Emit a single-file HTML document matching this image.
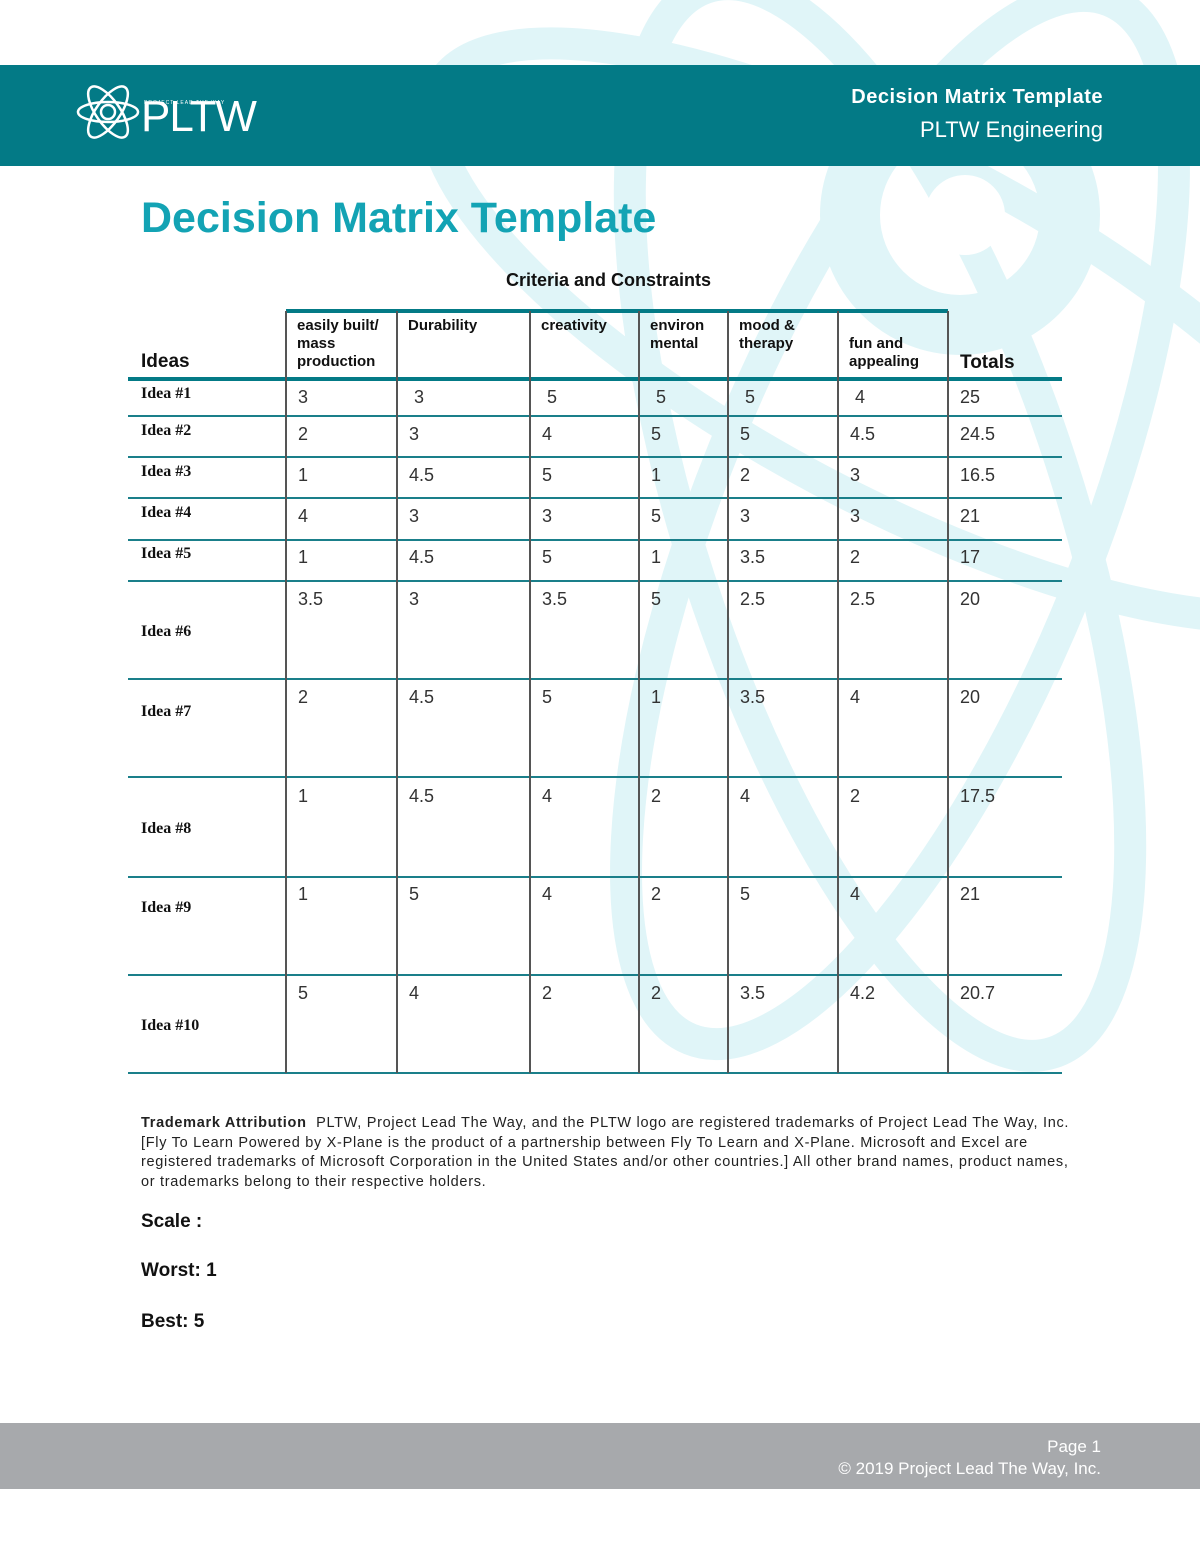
<!DOCTYPE html>
<html><head><meta charset="utf-8"><style>
body{margin:0;width:1200px;height:1553px;position:relative;background:#fff;font-family:"Liberation Sans",sans-serif;overflow:hidden}
.a{position:absolute;white-space:nowrap}
.h{font-weight:bold;font-size:15px;color:#111;line-height:18px}
.v{font-size:18px;color:#333}
.i{font-family:"Liberation Serif",serif;font-weight:bold;font-size:16px;color:#111}
</style></head><body>
<svg class="a" style="left:0;top:0" width="1200" height="1553">
<g fill="none" stroke="#e0f5f8" stroke-width="32">
<ellipse cx="880" cy="520" rx="190" ry="560" transform="rotate(-18 880 520)"/>
<ellipse cx="900" cy="520" rx="190" ry="560" transform="rotate(22 900 520)"/>
<ellipse cx="900" cy="330" rx="520" ry="170" transform="rotate(28 900 330)"/>
<circle cx="960" cy="215" r="110" stroke-width="60"/>
</g>
<circle cx="965" cy="215" r="40" fill="#fff"/>
<rect x="0" y="65" width="1200" height="101" fill="#037a86"/>
<rect x="0" y="1423" width="1200" height="66" fill="#a7a9ac"/>
<g fill="none" stroke="#fff" stroke-width="2.5">
<ellipse cx="108" cy="112" rx="12" ry="30" transform="rotate(-35 108 112)"/>
<ellipse cx="108" cy="112" rx="12" ry="30" transform="rotate(35 108 112)"/>
<ellipse cx="108" cy="112" rx="30" ry="10"/>
<circle cx="108" cy="112" r="7"/>
</g>
<rect x="286" y="309" width="662" height="4" fill="#037a86"/>
<rect x="128" y="377" width="934" height="4" fill="#037a86"/>
<g fill="#1a7f8a">
<rect x="128" y="415" width="934" height="2"/><rect x="128" y="456" width="934" height="2"/>
<rect x="128" y="497" width="934" height="2"/><rect x="128" y="539" width="934" height="2"/>
<rect x="128" y="580" width="934" height="2"/><rect x="128" y="678" width="934" height="2"/>
<rect x="128" y="776" width="934" height="2"/><rect x="128" y="876" width="934" height="2"/>
<rect x="128" y="974" width="934" height="2"/><rect x="128" y="1072" width="934" height="2"/>
</g>
<g fill="#555">
<rect x="285" y="311" width="2" height="762"/><rect x="396" y="311" width="2" height="762"/>
<rect x="529" y="311" width="2" height="762"/><rect x="638" y="311" width="2" height="762"/>
<rect x="727" y="311" width="2" height="762"/><rect x="837" y="311" width="2" height="762"/>
<rect x="947" y="311" width="2" height="762"/>
</g>
</svg>
<div class="a" style="left:141px;top:92px;color:#fff;font-size:44px;letter-spacing:-1px">PLTW</div>
<div class="a" style="left:144px;top:100px;color:#fff;font-size:5px;letter-spacing:1px">PROJECT LEAD THE WAY</div>
<div class="a" style="right:97px;top:86px;color:#fff;font-size:20px;font-weight:bold;letter-spacing:0.5px">Decision Matrix Template</div>
<div class="a" style="right:97px;top:117px;color:#fff;font-size:22px">PLTW Engineering</div>
<div class="a" style="left:141px;top:194px;color:#13a3b4;font-size:43px;font-weight:bold">Decision Matrix Template</div>
<div class="a" style="left:506px;top:270px;font-size:18px;font-weight:bold;color:#111">Criteria and Constraints</div>
<div class="a" style="left:141px;top:351px;font-size:19px;font-weight:bold;color:#111">Ideas</div>
<div class="a h" style="left:297px;top:317px">easily built/<br>mass<br>production</div>
<div class="a h" style="left:408px;top:317px">Durability</div>
<div class="a h" style="left:541px;top:317px">creativity</div>
<div class="a h" style="left:650px;top:317px">environ<br>mental</div>
<div class="a h" style="left:739px;top:317px">mood &amp;<br>therapy</div>
<div class="a h" style="left:849px;top:335px">fun and<br>appealing</div>
<div class="a" style="left:960px;top:352px;font-size:19px;font-weight:bold;color:#111">Totals</div>
<div id="rows"></div>
<script>
var d=[[385,387,"Idea #1",["3"," 3"," 5"," 5"," 5"," 4","25"]],[422,424,"Idea #2",["2","3","4","5","5","4.5","24.5"]],[463,465,"Idea #3",["1","4.5","5","1","2","3","16.5"]],[504,506,"Idea #4",["4","3","3","5","3","3","21"]],[545,547,"Idea #5",["1","4.5","5","1","3.5","2","17"]],[623,589,"Idea #6",["3.5","3","3.5","5","2.5","2.5","20"]],[703,687,"Idea #7",["2","4.5","5","1","3.5","4","20"]],[820,786,"Idea #8",["1","4.5","4","2","4","2","17.5"]],[899,884,"Idea #9",["1","5","4","2","5","4","21"]],[1017,983,"Idea #10",["5","4","2","2","3.5","4.2","20.7"]]];
var xs=[298,409,542,651,740,850,960],h="";
d.forEach(function(r){h+='<div class="a i" style="left:141px;top:'+r[0]+'px">'+r[2]+'</div>';
r[3].forEach(function(v,k){h+='<div class="a v" style="left:'+xs[k]+'px;top:'+r[1]+'px;white-space:pre">'+v+'</div>';});});
document.getElementById("rows").innerHTML=h;
</script>
<div class="a" style="left:141px;top:1114px;font-size:14.5px;color:#222;line-height:19.5px;letter-spacing:0.7px"><b>Trademark Attribution</b>&nbsp; PLTW, Project Lead The Way, and the PLTW logo are registered trademarks of Project Lead The Way, Inc.<br>[Fly To Learn Powered by X-Plane is the product of a partnership between Fly To Learn and X-Plane. Microsoft and Excel are<br>registered trademarks of Microsoft Corporation in the United States and/or other countries.] All other brand names, product names,<br>or trademarks belong to their respective holders.</div>
<div class="a" style="left:141px;top:1211px;font-size:19px;font-weight:bold;color:#111">Scale :</div>
<div class="a" style="left:141px;top:1260px;font-size:19px;font-weight:bold;color:#111">Worst: 1</div>
<div class="a" style="left:141px;top:1311px;font-size:19px;font-weight:bold;color:#111">Best: 5</div>
<div class="a" style="right:99px;top:1436px;color:#fff;font-size:17px;text-align:right;line-height:22px">Page 1<br>© 2019 Project Lead The Way, Inc.</div>
</body></html>
